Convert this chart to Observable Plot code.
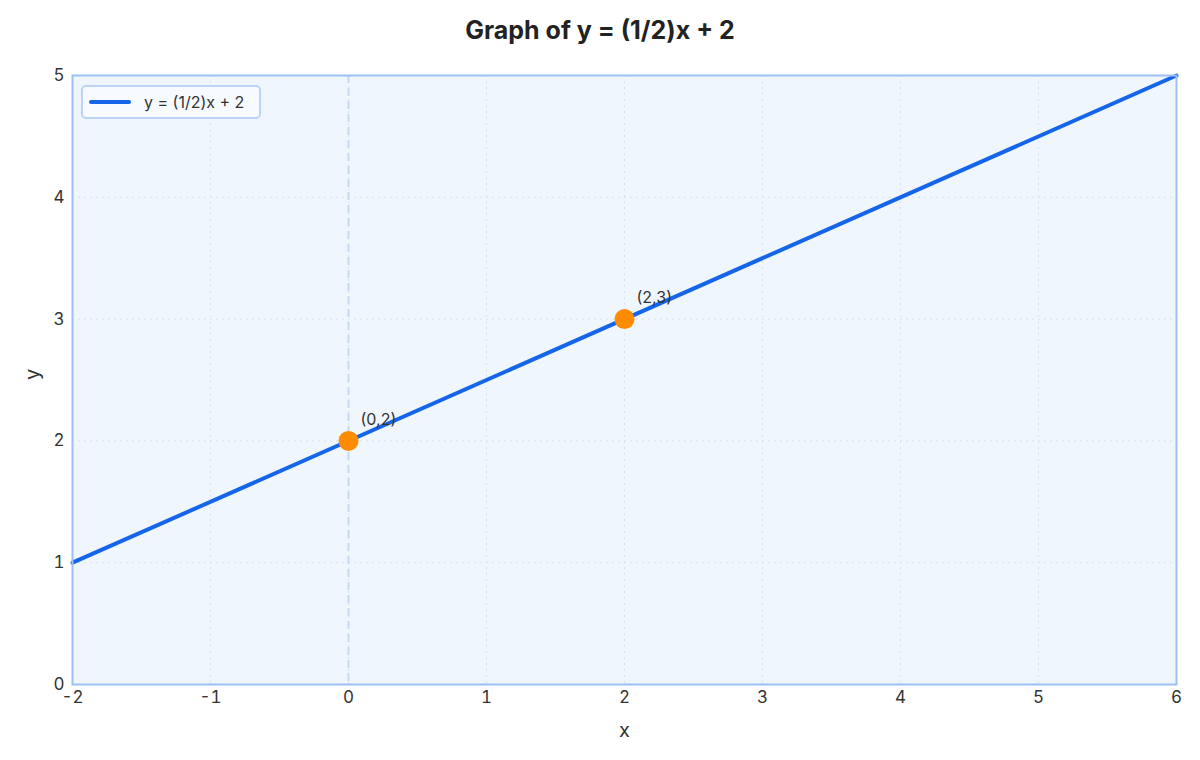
<!DOCTYPE html>
<html>
<head>
<meta charset="utf-8">
<script src="https://cdn.jsdelivr.net/npm/d3@7"></script>
<script src="https://cdn.jsdelivr.net/npm/@observablehq/plot@0.6"></script>
<style>
  html, body { margin: 0; padding: 0; background: #fff; }
  body { width: 1200px; height: 760px; position: relative; font-family: Inter, "Noto Sans", sans-serif; }
  #title { position: absolute; left: 0; top: 15px; width: 1200px; text-align: center; font-size: 25px; font-weight: 700; color: #222; }
  #chart { position: absolute; left: 0; top: 60px; }
  #legend { position: absolute; left: 81px; top: 85px; width: 180px; height: 34px; box-sizing: border-box;
    border: 2px solid #bcd3f7; border-radius: 5px; background: #f7faff; display: flex; align-items: center; }
  #legend .sw { width: 42px; height: 4px; border-radius: 2px; background: #1565e8; margin-left: 6px; }
  #legend .lb { margin-left: 13px; font-size: 16px; color: #333; }
  #chart svg text { font-weight: 400; }
</style>
</head>
<body>
<div id="title">Graph of y = (1/2)x + 2</div>
<div id="chart"></div>
<div id="legend"><div class="sw"></div><div class="lb">y = (1/2)x + 2</div></div>
<script>
const seriesName = "y = (1/2)x + 2";
const lineX = [-2, 6];
const lineY = [1, 5];
const pointX = [0, 2];
const pointY = [2, 3];
const pointLabels = ["(0,2)", "(2,3)"];
const xTicks = [-2, -1, 0, 1, 2, 3, 4, 5, 6];
const yTicks = [0, 1, 2, 3, 4, 5];

const lineData = lineX.map((x, i) => ({x, y: lineY[i]}));
const pointData = pointX.map((x, i) => ({x, y: pointY[i], label: pointLabels[i]}));
const fmt = d => String(d);

const chart = Plot.plot({
  width: 1200,
  height: 700,
  marginLeft: 72,
  marginRight: 24,
  marginTop: 15,
  marginBottom: 76,
  style: { fontFamily: "Inter, 'Noto Sans', sans-serif", fontSize: "17px", color: "#333", background: "transparent" },
  x: { domain: [-2, 6], ticks: xTicks, tickFormat: fmt, tickSize: 0, tickPadding: 6, label: null },
  y: { domain: [0, 5], ticks: yTicks, tickFormat: fmt, tickSize: 0, tickPadding: 8, label: null },
  marks: [
    Plot.frame({ fill: "#f0f6fe", stroke: "none" }),
    Plot.gridX(xTicks, { stroke: "#d6e2f2", strokeOpacity: 1, strokeDasharray: "2,4" }),
    Plot.gridY(yTicks, { stroke: "#d6e2f2", strokeOpacity: 1, strokeDasharray: "2,4" }),
    Plot.ruleX([0], { stroke: "#c3d9f5", strokeWidth: 2, strokeDasharray: "8,5" }),
    Plot.line(lineData, { x: "x", y: "y", stroke: "#1565e8", strokeWidth: 4 }),
    Plot.dot(pointData, { x: "x", y: "y", r: 10, fill: "#ff8c00", stroke: "none" }),
    Plot.text(pointData, { x: "x", y: "y", text: "label", dx: 12, dy: -21, textAnchor: "start", fontSize: 16, fill: "#333" }),
    Plot.axisX({ ticks: xTicks, tickFormat: fmt, tickSize: 0, tickPadding: 6, label: "x", labelAnchor: "center", labelArrow: "none", labelOffset: 52, fontSize: 17 }),
    Plot.axisY({ ticks: yTicks, tickFormat: fmt, tickSize: 0, tickPadding: 8, label: null, fontSize: 17 }),
    Plot.text(["y"], { frameAnchor: "left", dx: -40, rotate: -90, fontSize: 20, fill: "#333" }),
    Plot.frame({ stroke: "#9cbff5", strokeWidth: 2 })
  ]
});
document.getElementById("chart").appendChild(chart);
chart.querySelectorAll("g[aria-label='x-axis label'] text").forEach(t => t.setAttribute("font-size", 20));
</script>
</body>
</html>
